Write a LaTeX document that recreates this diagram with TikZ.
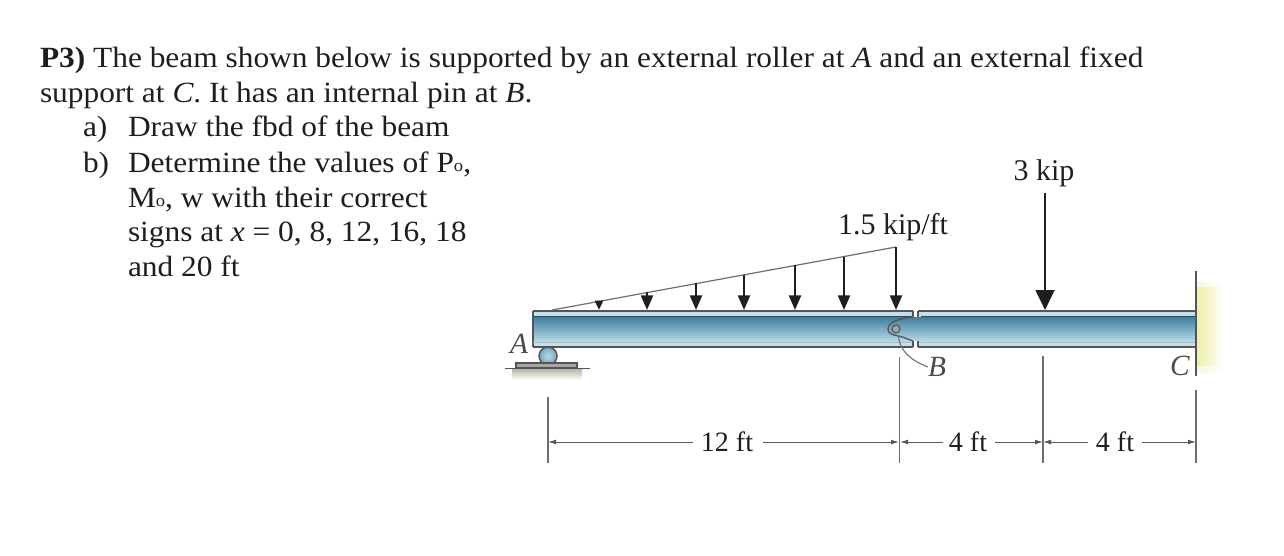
\documentclass[tikz,border=0pt]{standalone}
\usepackage{fontspec}
\setmainfont{Liberation Serif}
\newfontfamily\bodyf[FakeStretch=1.07]{Liberation Serif}
\newfontfamily\labf{Liberation Serif}
\usetikzlibrary{arrows.meta}
\definecolor{ink}{HTML}{1E1E1E}
\definecolor{grayl}{HTML}{6E6E6E}
\definecolor{bdark}{HTML}{3F7F9F}
\definecolor{blite}{HTML}{BBDCE8}
\definecolor{strip}{HTML}{C9DEE7}
\definecolor{edge}{HTML}{50565A}
\tikzset{
 x=0.75pt,y=-0.75pt,
 body/.style={anchor=base west,inner sep=0,outer sep=0,text=ink,font=\bodyf\fontsize{22}{26}\selectfont},
 lab/.style={inner sep=0,text=ink,font=\labf\fontsize{22.5}{26}\selectfont},
 dimlab/.style={inner sep=0,text=ink,font=\labf\fontsize{21}{25}\selectfont},
 ital/.style={inner sep=0,text=ink!80,font=\labf\itshape\fontsize{22}{26}\selectfont},
 load/.style={draw=ink,line width=1.7pt,-{Triangle[width=9pt,length=11pt]},shorten >=0pt},
 bigload/.style={draw=ink,line width=2.2pt,-{Triangle[width=14pt,length=15pt]}},
 extline/.style={draw=grayl,line width=0.8pt},
 dimline/.style={draw=grayl!80!black,line width=0.7pt,-{Latex[length=6pt,width=3.6pt]}},
}
\newcommand{\subo}{\raisebox{0.5pt}{\fontsize{13}{13}\selectfont o}}
\begin{document}
\begin{tikzpicture}
\useasboundingbox (0,0) rectangle (1284,556);
\fill[white] (0,0) rectangle (1284,556);
% text
\node[body] at (40,68) {\textbf{P3)} The beam shown below is supported by an external roller at \textit{A} and an external fixed};
\node[body] at (40,103) {support at \textit{C}. It has an internal pin at \textit{B}.};
\node[body] at (83,137) {a)};
\node[body] at (128,137) {Draw the fbd of the beam};
\node[body] at (83,172) {b)};
\node[body] at (128,172) {Determine the values of P\subo,};
\node[body] at (128,207) {M\subo, w with their correct};
\node[body] at (128,241) {signs at \textit{x} = 0, 8, 12, 16, 18};
\node[body] at (128,276) {and 20 ft};
% wall
\shade[left color=white!70!gray!60!yellow!70,right color=white] (1197,282) rectangle (1224,372);
\shade[top color=white,bottom color=white,middle color=white,opacity=0] (1197,282) rectangle (1224,290);
\shade[bottom color=white,top color=white,opacity=0] (1197,360) rectangle (1224,372);
\fill[white,opacity=.6] (1197,280) rectangle (1224,287);
\fill[white,opacity=.6] (1197,366) rectangle (1224,374);
% ground
\shade[top color=black!35!yellow!20!gray!60,bottom color=white] (512,369) rectangle (582,380);
% beam
\fill[strip] (533,311) rectangle (1195,317);
\fill[strip] (533,341) rectangle (1195,347);
\shade[top color=bdark,bottom color=blite] (533,317) rectangle (1195,342);
\draw[edge,line width=1.1pt] (533,311) -- (913,311) (533,347) -- (913,347) (533,311) -- (533,347);
\draw[edge,line width=1.1pt] (918,311) -- (1195,311) (918,347) -- (1195,347);
\draw[bdark!60!black,line width=1pt] (533,316.5) -- (912,316.5) (921,316.5) -- (1195,316.5);
\draw[blite!70!gray,line width=.5pt] (533,342) -- (912,342) (921,342) -- (1195,342);
% joint
\fill[white] (914,311) rectangle (917,317);
\fill[white] (914,341) rectangle (917,347);
\draw[edge,line width=.9pt] (913,311) -- (913,317) (918,311) -- (918,317) (913,341) -- (913,347) (918,341) -- (918,347);
\draw[edge,line width=1pt] (913,317) .. controls (903,318) and (888,321) .. (888,329) .. controls (888,336) and (899,335) .. (905,338) -- (913,341);
\fill[gray!70] (896,329) circle (3.5);
\draw[edge,line width=.9pt] (896,329) circle (4);
\coordinate (pinb) at (898,335);
\node[ital] (B) at (937,367) {B};
\draw[grayl,line width=.8pt] (pinb) .. controls (900,350) and (908,359) .. (B.west);
% roller
\shade[inner color=blite,outer color=bdark!70] (548,356) circle (9);
\draw[edge,line width=1.1pt] (548,356) circle (9);
\fill[gray!70,draw=edge,line width=.8pt] (516,363) rectangle (577,368);
\draw[edge,line width=.9pt] (505,368.5) -- (590,368.5);
\node[ital] at (519,344) {A};
\node[ital] at (1180,366) {C};
% wall line
\draw[edge,line width=1.2pt] (1196,271) -- (1196,376);
% load
\coordinate (t0) at (552,310);
\coordinate (t7) at (896,247);
\draw[grayl,line width=.9pt] (t0) -- (t7);
\foreach \px/\py in {647/292,696/283,744/274.5,795/265,844/256.5,896/247}
  \draw[load] (\px,\py) -- (\px,310);
\draw[load,-{Triangle[width=6pt,length=7pt]}] (599,301) -- (599,310);
\node[lab] at (893,227) {1.5 kip/ft};
\node[lab] (kip) at (1044,173) {3 kip};
\draw[bigload] (1045,193) -- (1045,310);
% extension lines
\draw[extline] (548,397) -- (548,463);
\draw[extline] (899.5,357) -- (899.5,463);
\draw[extline] (1043,356) -- (1043,463);
\draw[extline] (1196,390) -- (1196,463);
% dimensions
\node[dimlab] (d1) at (727,442) {12 ft};
\node[dimlab] (d2) at (968,442) {4 ft};
\node[dimlab] (d3) at (1115,442) {4 ft};
\draw[dimline] (693,442) -- (548,442);
\draw[dimline] (763,442) -- (899,442);
\draw[dimline] (943,442) -- (900,442);
\draw[dimline] (995,442) -- (1043,442);
\draw[dimline] (1088,442) -- (1043,442);
\draw[dimline] (1142,442) -- (1196,442);
\end{tikzpicture}
\end{document}
